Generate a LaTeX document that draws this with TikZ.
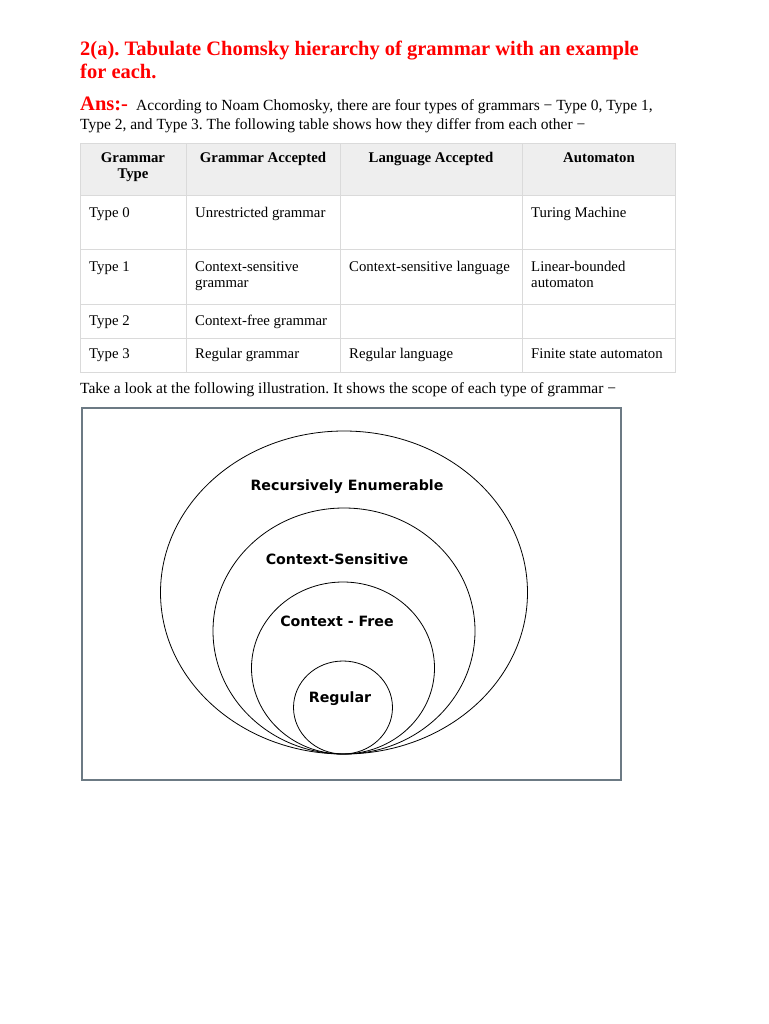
\documentclass[tikz,border=0pt]{standalone}
\usepackage{fontspec}
\setmainfont{Liberation Serif}
\newfontfamily\diagfont{DejaVu Sans}
\usetikzlibrary{positioning}
\frenchspacing
\definecolor{titlered}{RGB}{255,0,0}
\definecolor{gridgray}{RGB}{218,218,218}
\definecolor{headbg}{RGB}{238,238,238}
\definecolor{framegray}{RGB}{108,122,132}
\tikzset{
  titletext/.style={anchor=base west, inner sep=0pt,
    font=\fontsize{20.5}{24}\selectfont\bfseries, text=titlered},
  bodytext/.style={anchor=base west, inner sep=0pt, font=\fontsize{15.5}{18}\selectfont},
  headtext/.style={anchor=base, inner sep=0pt, font=\fontsize{14.8}{17}\selectfont\bfseries},
  celltext/.style={anchor=base west, inner sep=0pt, font=\fontsize{14.8}{17}\selectfont},
  setlabel/.style={inner sep=0pt, font=\diagfont\bfseries\fontsize{14.2}{16}\selectfont},
  setring/.style={draw, line width=0.8pt},
}

\begin{document}
\begin{tikzpicture}[x=1pt, y=-1pt]
  \useasboundingbox[fill=white] (0,0) rectangle (768,1024);

  % question
  \node[titletext] (q1) at (80,56) {2(a). Tabulate Chomsky hierarchy of grammar with an example};
  \node[titletext] (q2) at (80,79) {for each.};
  \node[titletext] (ans) at (80,111) {Ans:-};
  \node[bodytext] (a1) at (136,111) {According to Noam Chomosky, there are four types of grammars − Type 0, Type 1,};
  \node[bodytext] (a2) at (80,130) {Type 2, and Type 3. The following table shows how they differ from each other −};

  % table
  \fill[headbg] (80,144) rectangle (675,196);
  \draw[gridgray, line width=1pt] (80,144) rectangle (675,372);
  \foreach \y in {196,249,304,338}
    \draw[gridgray, line width=1pt] (80,\y) -- (675,\y);
  \foreach \x in {186,340,522}
    \draw[gridgray, line width=1pt] (\x,144) -- (\x,372);

  \node[headtext] (h1a) at (133,163) {Grammar};
  \node[headtext] (h1b) at (133,179) {Type};
  \node[headtext] (h2) at (263,163) {Grammar Accepted};
  \node[headtext] (h3) at (431,163) {Language Accepted};
  \node[headtext] (h4) at (599,163) {Automaton};

  \node[celltext] (t0) at (89,218) {Type 0};
  \node[celltext] (g0) at (195,218) {Unrestricted grammar};
  \node[celltext] (m0) at (531,218) {Turing Machine};

  \node[celltext] (t1) at (89,271) {Type 1};
  \node[celltext] (g1a) at (195,271) {Context-sensitive};
  \node[celltext] (g1b) at (195,287) {grammar};
  \node[celltext] (l1) at (349,271) {Context-sensitive language};
  \node[celltext] (m1a) at (531,271) {Linear-bounded};
  \node[celltext] (m1b) at (531,287) {automaton};

  \node[celltext] (t2) at (89,325) {Type 2};
  \node[celltext] (g2) at (195,325) {Context-free grammar};

  \node[celltext] (t3) at (89,358) {Type 3};
  \node[celltext] (g3) at (195,358) {Regular grammar};
  \node[celltext] (l3) at (349,358) {Regular language};
  \node[celltext] (m3) at (531,358) {Finite state automaton};

  \node[bodytext] (look) at (80,393) {Take a look at the following illustration. It shows the scope of each type of grammar −};

  % illustration
  \draw[framegray, line width=1.2pt] (82,408) rectangle (621,780);
  \draw[setring] (344,592.5) ellipse [x radius=183.5, y radius=161.5];
  \draw[setring] (344,631) ellipse [x radius=131, y radius=123];
  \draw[setring] (343,668) ellipse [x radius=91.5, y radius=86];
  \draw[setring] (343,707.5) ellipse [x radius=49.5, y radius=46.5];

  \node[setlabel] (re) at (347,487) {Recursively Enumerable};
  \node[setlabel] (cs) at (337,559) {Context-Sensitive};
  \node[setlabel] (cf) at (337,621) {Context - Free};
  \node[setlabel] (reg) at (340,699) {Regular};
\end{tikzpicture}
\end{document}
